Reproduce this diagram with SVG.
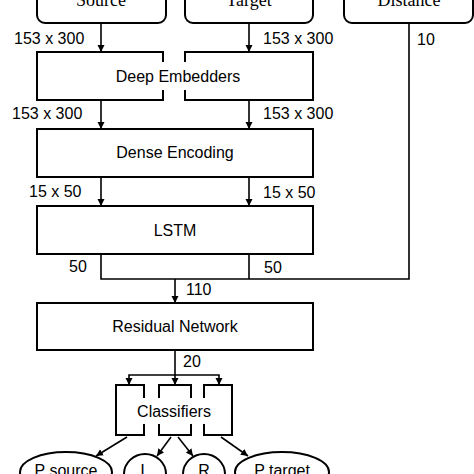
<svg xmlns="http://www.w3.org/2000/svg" width="474" height="474" viewBox="0 0 474 474">
<style>
.box{fill:#fff;stroke:#000;stroke-width:2}
.open{fill:none;stroke:#000;stroke-width:2}
.ln{fill:none;stroke:#000;stroke-width:1.6}
.arr{marker-end:url(#ah)}
.t{font-family:"Liberation Sans",Arial,sans-serif;font-size:16px;fill:#000}
.m{text-anchor:middle}
.s{font-family:"Liberation Serif","Times New Roman",serif;font-size:18px;fill:#000;text-anchor:middle}
</style>
<defs>
<marker id="ah" markerUnits="userSpaceOnUse" markerWidth="8" markerHeight="8" refX="7" refY="4" orient="auto">
<path d="M0,0.5 L7,4 L0,7.5 z" fill="#000"/>
</marker>
</defs>
<rect width="474" height="474" fill="#fff"/>
<g id="connectors">
<line class="ln arr" x1="101" y1="23" x2="101" y2="52"/>
<line class="ln arr" x1="249" y1="23" x2="249" y2="52"/>
<line class="ln arr" x1="101" y1="100" x2="101" y2="129"/>
<line class="ln arr" x1="249" y1="100" x2="249" y2="129"/>
<line class="ln arr" x1="101" y1="177" x2="101" y2="206"/>
<line class="ln arr" x1="249" y1="177" x2="249" y2="206"/>
<path class="ln" d="M101,254 V279 H409 V23"/>
<line class="ln" x1="249" y1="254" x2="249" y2="279"/>
<line class="ln arr" x1="175" y1="279" x2="175" y2="303"/>
<line class="ln arr" x1="175" y1="350" x2="175" y2="385"/>
<path class="ln arr" d="M175,375 H129 V385"/>
<path class="ln arr" d="M175,375 H219 V385"/>
<line class="ln arr" x1="127" y1="437" x2="96" y2="456"/>
<line class="ln arr" x1="171" y1="437" x2="157" y2="456"/>
<line class="ln arr" x1="178" y1="437" x2="193" y2="456"/>
<line class="ln arr" x1="221" y1="437" x2="248" y2="456"/>
<text class="t" x="14" y="44">153 x 300</text>
<text class="t" x="263" y="44">153 x 300</text>
<text class="t" x="417" y="45">10</text>
<text class="t" x="12" y="119">153 x 300</text>
<text class="t" x="263" y="119">153 x 300</text>
<text class="t" x="29" y="197">15 x 50</text>
<text class="t" x="263" y="198">15 x 50</text>
<text class="t" x="69" y="272">50</text>
<text class="t" x="264" y="273">50</text>
<text class="t" x="186" y="295">110</text>
<text class="t" x="183" y="367">20</text>
</g>
<g id="source">
<rect class="box" x="37" y="-30" width="129" height="53" rx="8"/>
<text class="s" x="101" y="6">Source</text>
</g>
<g id="target">
<rect class="box" x="185" y="-30" width="128" height="53" rx="8"/>
<text class="s" x="249" y="6">Target</text>
</g>
<g id="distance">
<rect class="box" x="344" y="-30" width="129" height="53" rx="8"/>
<text class="s" x="409" y="6">Distance</text>
</g>
<g id="deep-embedders">
<path class="open" d="M163,62 V52 H37 V100 H163 V90"/>
<path class="open" d="M185,62 V52 H313 V100 H185 V90"/>
<text class="t m" x="178" y="82">Deep Embedders</text>
</g>
<g id="dense-encoding">
<rect class="box" x="37" y="129" width="276" height="48"/>
<text class="t m" x="175" y="158">Dense Encoding</text>
</g>
<g id="lstm">
<rect class="box" x="37" y="206" width="276" height="48"/>
<text class="t m" x="175" y="236">LSTM</text>
</g>
<g id="residual-network">
<rect class="box" x="37" y="303" width="276" height="47"/>
<text class="t m" x="175" y="332">Residual Network</text>
</g>
<g id="classifiers">
<path class="open" d="M144,398 V385 H116 V435 H144 V424"/>
<path class="open" d="M159,398 V385 H191 V398"/>
<path class="open" d="M159,424 V435 H191 V424"/>
<path class="open" d="M204,398 V385 H232 V435 H204 V424"/>
<text class="t m" x="174" y="417">Classifiers</text>
</g>
<g id="p-source">
<ellipse class="box" cx="66" cy="472" rx="46" ry="20"/>
<text class="t m" x="66" y="476">P source</text>
</g>
<g id="l">
<ellipse class="box" cx="145" cy="474" rx="21" ry="20"/>
<text class="t m" x="145" y="476">L</text>
</g>
<g id="r">
<ellipse class="box" cx="204" cy="474" rx="21" ry="20"/>
<text class="t m" x="204" y="476">R</text>
</g>
<g id="p-target">
<ellipse class="box" cx="282" cy="472" rx="47" ry="20"/>
<text class="t m" x="282" y="476">P target</text>
</g>
</svg>
